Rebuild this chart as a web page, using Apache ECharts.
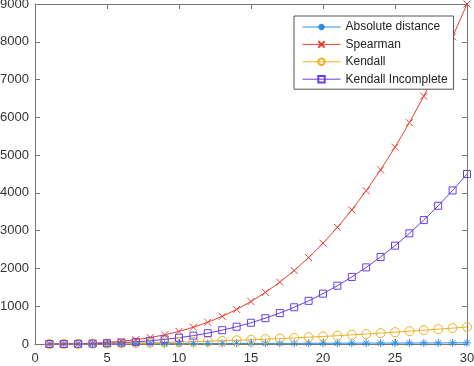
<!DOCTYPE html>
<html><head><meta charset="utf-8">
<script src="https://cdn.jsdelivr.net/npm/echarts@6/dist/echarts.min.js"></script>
<style>html,body{margin:0;padding:0;background:#fff}#c{width:474px;height:366px}</style>
</head><body><div id="c"></div>
<script>
const xValues = [1,2,3,4,5,6,7,8,9,10,11,12,13,14,15,16,17,18,19,20,21,22,23,24,25,26,27,28,29,30];
const absoluteDistance = [1,2,3,4,5,6,7,8,9,10,11,12,13,14,15,16,17,18,19,20,21,22,23,24,25,26,27,28,29,30];
const spearman = [0,3,9,21,42,72,114,170,243,333,444,576,732,915,1125,1365,1638,1944,2286,2667,3087,3549,4056,4608,5208,5859,6561,7317,8130,9000];
const kendall = [0.5,2,4.5,8,12.5,18,24.5,32,40.5,50,60.5,72,84.5,98,112.5,128,144.5,162,180.5,200,220.5,242,264.5,288,312.5,338,364.5,392,420.5,450];
const kendallIncomplete = [0,1,5,11,21,36,57,85,122,167,222,288,366,457,562,683,819,972,1143,1333,1543,1775,2028,2304,2604,2929,3280,3659,4065,4500];
const seriesNames = ['Absolute distance','Spearman','Kendall','Kendall Incomplete'];
const xTicks = [0,5,10,15,20,25,30];
const yTicks = [0,1000,2000,3000,4000,5000,6000,7000,8000,9000];

const colors = ['#2f8fe6','#e8412e','#edb120','#6a3ee6'];
const symbols = [
  'path://M5,0L5,10M0,5L10,5M1.5,1.5L8.5,8.5M8.5,1.5L1.5,8.5',
  'path://M0,0L10,10M10,0L0,10',
  'circle',
  'rect'
];
const sizes = [8, 7, 9, 7];
const dataSets = [absoluteDistance, spearman, kendall, kendallIncomplete];

const axisColor = '#777';
const chart = echarts.init(document.getElementById('c'), null, {renderer:'canvas'});
chart.setOption({
  animation: false,
  grid: {left:35, right:7, top:4, bottom:22, containLabel:false, outerBoundsMode:'none'},
  legend: {
    orient:'vertical', left:294, top:16,
    backgroundColor:'#fff', borderColor:'#555', borderWidth:1,
    padding:[5,6,4,8], itemWidth:38, itemHeight:8, itemGap:5.4,
    lineStyle:{width:1},
    textStyle:{fontFamily:'Liberation Sans, Arial, sans-serif', fontSize:12, color:'#222'},
    data: seriesNames
  },
  xAxis: [
    {type:'value', min:0, max:30, interval:5, position:'bottom',
     axisLine:{show:true, onZero:false, lineStyle:{color:axisColor}},
     axisTick:{show:true, inside:true, length:5, lineStyle:{color:axisColor}},
     axisLabel:{margin:8, fontSize:13, color:'#333', fontFamily:'Liberation Sans, Arial, sans-serif',
       formatter: v => xTicks.includes(v) ? String(v) : ''},
     splitLine:{show:false}},
    {type:'value', min:0, max:30, interval:5, position:'top',
     axisLine:{show:true, onZero:false, lineStyle:{color:axisColor}},
     axisTick:{show:true, inside:true, length:5, lineStyle:{color:axisColor}},
     axisLabel:{show:false}, splitLine:{show:false}}
  ],
  yAxis: [
    {type:'value', min:0, max:9000, interval:1000, position:'left',
     axisLine:{show:true, onZero:false, lineStyle:{color:axisColor}},
     axisTick:{show:true, inside:true, length:5, lineStyle:{color:axisColor}},
     axisLabel:{margin:6, fontSize:13, color:'#333', fontFamily:'Liberation Sans, Arial, sans-serif',
       formatter: v => yTicks.includes(v) ? String(v) : ''},
     splitLine:{show:false}},
    {type:'value', min:0, max:9000, interval:1000, position:'right',
     axisLine:{show:true, onZero:false, lineStyle:{color:axisColor}},
     axisTick:{show:true, inside:true, length:5, lineStyle:{color:axisColor}},
     axisLabel:{show:false}, splitLine:{show:false}}
  ],
  series: seriesNames.map((name, i) => ({
    name, type:'line', xAxisIndex:0, yAxisIndex:0,
    data: xValues.map((x, j) => [x, dataSets[i][j]]),
    symbol: symbols[i], symbolSize: sizes[i], showAllSymbol:true,
    lineStyle:{color:colors[i], width:1},
    itemStyle:{color: i < 2 ? colors[i] : 'rgba(0,0,0,0)', borderColor:colors[i], borderWidth:1},
    emphasis:{disabled:true}
  }))
});
</script></body></html>
